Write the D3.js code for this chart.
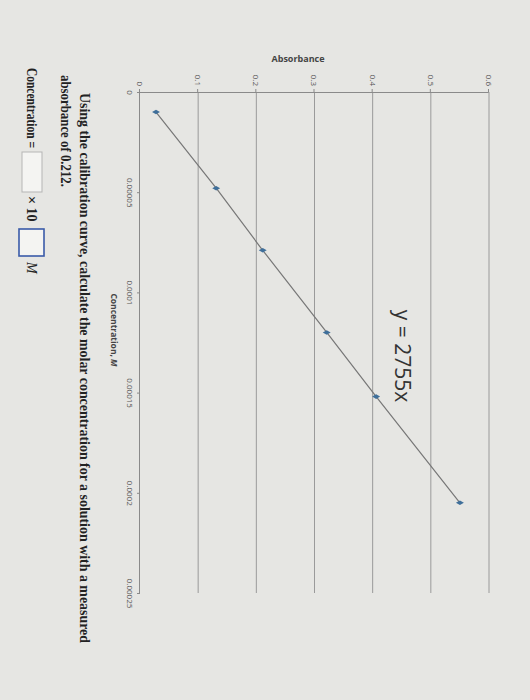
<!DOCTYPE html>
<html>
<head>
<meta charset="utf-8">
<script src="https://cdn.jsdelivr.net/npm/d3@7"></script>
<style>
  body { margin: 0; background: #e6e6e3; }
  svg { display: block; }
</style>
</head>
<body>
<svg width="530" height="700"></svg>
<script>
// calibration data (concentration in M, absorbance)
const concentration = [0.00001, 0.000048, 0.000079, 0.00012, 0.000152, 0.000205];
const absorbance = [0.0275, 0.131, 0.211, 0.321, 0.406, 0.55];
const concTicks = [0, 0.00005, 0.0001, 0.00015, 0.0002, 0.00025];
const concTickLabels = ['0', '0.00005', '0.0001', '0.00015', '0.0002', '0.00025'];
const absTicks = [0, 0.1, 0.2, 0.3, 0.4, 0.5, 0.6];
const absTickLabels = ['0', '0.1', '0.2', '0.3', '0.4', '0.5', '0.6'];
const data = concentration.map((c, i) => ({c: c, a: absorbance[i]}));

const svg = d3.select('svg');

// the photo is turned a quarter turn clockwise, so draw the page and rotate it
const page = svg.append('g').attr('transform', 'translate(530,0) rotate(90)');

const x = d3.scaleLinear().domain([0, 0.00025]).range([92, 593]);
const y = d3.scaleLinear().domain([0, 0.6]).range([390, 41]);

// gridlines
page.selectAll('.grid')
  .data(absTicks.slice(1)).enter()
  .append('line')
  .attr('x1', x(0)).attr('x2', x(0.00025))
  .attr('y1', d => y(d)).attr('y2', d => y(d))
  .attr('stroke', '#9a9a9a').attr('stroke-width', 1);

// axes
const xAxis = page.append('g')
  .attr('transform', `translate(0,${y(0)})`)
  .call(d3.axisBottom(x).tickValues(concTicks).tickFormat((d, i) => concTickLabels[i]).tickSize(3));
const yAxis = page.append('g')
  .attr('transform', `translate(${x(0)},0)`)
  .call(d3.axisLeft(y).tickValues(absTicks).tickFormat((d, i) => absTickLabels[i]).tickSize(3));
[xAxis, yAxis].forEach(a => {
  a.selectAll('path, line').attr('stroke', '#8a8a8a');
  a.selectAll('text').attr('fill', '#555').style('font-family', 'Open Sans, sans-serif').style('font-size', '8px');
});
xAxis.selectAll('text').attr('dy', '0.9em');

page.append('text')
  .attr('x', 330).attr('y', 419)
  .attr('text-anchor', 'middle')
  .style('font-family', 'Open Sans, sans-serif').style('font-size', '8.5px').style('font-weight', 'bold')
  .attr('fill', '#444')
  .html('Concentration, <tspan font-style="italic">M</tspan>');

page.append('text')
  .attr('transform', `translate(62,232) rotate(-90)`)
  .attr('text-anchor', 'middle')
  .style('font-family', 'Open Sans, sans-serif').style('font-size', '9px').style('font-weight', 'bold')
  .attr('fill', '#444')
  .text('Absorbance');

// trend line and points
page.append('path')
  .datum(data)
  .attr('d', d3.line().x(d => x(d.c)).y(d => y(d.a)))
  .attr('fill', 'none').attr('stroke', '#777').attr('stroke-width', 1.2);

page.selectAll('.pt')
  .data(data).enter()
  .append('path')
  .attr('transform', d => `translate(${x(d.c)},${y(d.a)})`)
  .attr('d', d3.symbol(d3.symbolDiamond, 18))
  .attr('fill', '#3f6f9a');

page.append('text')
  .attr('x', 356).attr('y', 135)
  .attr('text-anchor', 'middle')
  .style('font-family', 'Open Sans, sans-serif').style('font-size', '21px')
  .attr('fill', '#333')
  .text('y = 2755x');

// question text
const serif = 'Liberation Serif, Times New Roman, serif';
const q = page.append('g').style('font-family', serif).style('font-weight', 'bold').attr('fill', '#222');
q.append('text').attr('x', 93).attr('y', 450).style('font-size', '14px')
  .attr('textLength', 550).attr('lengthAdjust', 'spacingAndGlyphs')
  .text('Using the calibration curve, calculate the molar concentration for a solution with a measured');
q.append('text').attr('x', 75).attr('y', 469).style('font-size', '14px')
  .attr('textLength', 112).attr('lengthAdjust', 'spacingAndGlyphs')
  .text('absorbance of 0.212.');
q.append('text').attr('x', 68).attr('y', 503).style('font-size', '14px')
  .attr('textLength', 80).attr('lengthAdjust', 'spacingAndGlyphs')
  .text('Concentration =');
page.append('rect').attr('x', 152).attr('y', 488).attr('width', 40).attr('height', 20)
  .attr('fill', '#f4f4f2').attr('stroke', '#b5b5b5');
page.append('text').attr('x', 196).attr('y', 503)
  .style('font-family', serif).style('font-size', '14px').style('font-weight', 'bold').attr('fill', '#222').text('× 10');
page.append('rect').attr('x', 229).attr('y', 486).attr('width', 27).attr('height', 25)
  .attr('fill', '#f4f4f2').attr('stroke', '#3a5ba8').attr('stroke-width', 1.6);
page.append('text').attr('x', 262).attr('y', 503)
  .style('font-family', serif).style('font-size', '14px').style('font-style', 'italic').attr('fill', '#222').text('M');
</script>
</body>
</html>
